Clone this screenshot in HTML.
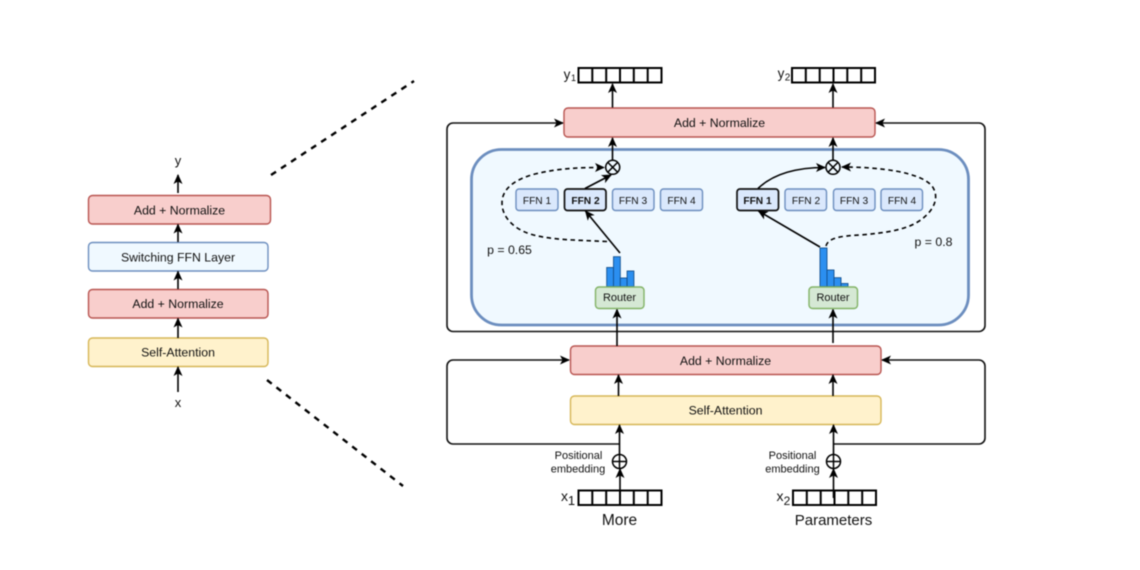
<!DOCTYPE html>
<html><head><meta charset="utf-8"><style>
html,body{margin:0;padding:0;background:#fff;width:1140px;height:570px;overflow:hidden}
svg{display:block;filter:blur(.4px)}
text{font-family:"Liberation Sans",sans-serif;fill:#111;text-anchor:middle}
.l{stroke:#000;stroke-width:1.6;fill:none}
.c{stroke:#111;stroke-width:1.6;fill:none;stroke-linejoin:round}
.d{stroke:#000;stroke-width:1.6;fill:none;stroke-dasharray:4.5 3.5}
.dd{stroke:#000;stroke-width:2.4;fill:none;stroke-dasharray:6 6}
.r{fill:#f8cecc;stroke:#b85450;stroke-width:1.4}
.y{fill:#fff2cc;stroke:#d6b656;stroke-width:1.4}
.b{fill:#f0f9ff;stroke:#6c8ebf;stroke-width:1.4}
.f{fill:#dae8fc;stroke:#6c8ebf;stroke-width:1.4}
.s{fill:#dae8fc;stroke:#111;stroke-width:1.7}
.g{fill:#d5e8d4;stroke:#82b366;stroke-width:1.4}
.bar{fill:#2b8ff0;stroke:#12508f;stroke-width:.9}
.cell{fill:#fff;stroke:#000;stroke-width:2}
.t12{font-size:12.3px}
.t10{font-size:10.2px}
.t11{font-size:11px}
</style></head><body>
<svg width="1140" height="570" viewBox="0 0 1140 570" xmlns="http://www.w3.org/2000/svg">
<defs>
<marker id="a" markerUnits="userSpaceOnUse" markerWidth="12" markerHeight="12" refX="9" refY="5" orient="auto"><path d="M0 0.5L10 5L0 9.5L2.5 5Z" fill="#000"/></marker>
</defs>

<!-- Left stack -->
<line class="dd" x1="271" y1="175" x2="414" y2="81"/>
<line class="dd" x1="267" y1="380" x2="403" y2="486"/>
<rect class="r" x="88.5" y="195.5" width="182" height="28.5" rx="4"/>
<rect class="b" x="88.5" y="242.5" width="179.5" height="28.5" rx="4"/>
<rect class="r" x="88.5" y="289.5" width="179.5" height="28.5" rx="4"/>
<rect class="y" x="88.5" y="338" width="179.5" height="28.5" rx="4"/>
<text class="t12" x="179.5" y="214.5">Add + Normalize</text>
<text class="t12" x="178" y="261.5">Switching FFN Layer</text>
<text class="t12" x="178" y="308">Add + Normalize</text>
<text class="t12" x="178" y="356.5">Self-Attention</text>
<text x="178" y="165" style="font-size:13px">y</text>
<text x="178" y="407" style="font-size:13px">x</text>
<g class="l">
<line x1="178" y1="193" x2="178" y2="175" marker-end="url(#a)"/>
<line x1="178" y1="242" x2="178" y2="224.5" marker-end="url(#a)"/>
<line x1="178" y1="289" x2="178" y2="271.5" marker-end="url(#a)"/>
<line x1="178" y1="338" x2="178" y2="318.5" marker-end="url(#a)"/>
<line x1="178" y1="392" x2="178" y2="367" marker-end="url(#a)"/>
</g>

<!-- Outer loops -->
<path class="c" d="M453 331.5H979a6 6 0 0 0 6-6V129a6 6 0 0 0-6-6H876" marker-end="url(#a)"/>
<path class="c" d="M453 331.5a6 6 0 0 1-6-6V129a6 6 0 0 1 6-6H563" marker-end="url(#a)"/>
<path class="c" d="M619 444H453a6 6 0 0 1-6-6V366a6 6 0 0 1 6-6H569" marker-end="url(#a)"/>
<path class="c" d="M833 444H979a6 6 0 0 0 6-6V366a6 6 0 0 0-6-6H882" marker-end="url(#a)"/>

<!-- Container -->
<rect x="471.5" y="149.5" width="497" height="175.5" rx="30" fill="#f0f9ff" stroke="#6c8ebf" stroke-width="2.8"/>

<!-- Main boxes -->
<rect class="r" x="564" y="108" width="311" height="29" rx="4"/>
<rect class="r" x="570.5" y="346" width="310.5" height="28.5" rx="4"/>
<rect class="y" x="570.5" y="396" width="310.5" height="28.5" rx="4"/>
<text class="t12" x="719.5" y="127">Add + Normalize</text>
<text class="t12" x="725.5" y="365">Add + Normalize</text>
<text class="t12" x="725.5" y="414.5">Self-Attention</text>

<!-- Grids -->
<g class="cell">
<rect x="578.5" y="68" width="83" height="14.5"/>
<path d="M592.3 68V82.5M606.2 68V82.5M620 68V82.5M633.8 68V82.5M647.7 68V82.5"/>
<rect x="792" y="68" width="83" height="14.5"/>
<path d="M805.8 68V82.5M819.7 68V82.5M833.5 68V82.5M847.3 68V82.5M861.2 68V82.5"/>
<rect x="578.5" y="490.5" width="83" height="14.5"/>
<path d="M592.3 490.5V505M606.2 490.5V505M620 490.5V505M633.8 490.5V505M647.7 490.5V505"/>
<rect x="793" y="490.5" width="83" height="14.5"/>
<path d="M806.8 490.5V505M820.7 490.5V505M834.5 490.5V505M848.3 490.5V505M862.2 490.5V505"/>
</g>
<text x="567" y="79" style="font-size:13.5px">y</text><text x="573.5" y="81" style="font-size:9px">1</text>
<text x="781" y="78" style="font-size:13.5px">y</text><text x="787.5" y="80.5" style="font-size:10px">2</text>
<text x="564.5" y="501" style="font-size:14px">x</text><text x="571.5" y="505" style="font-size:13px">1</text>
<text x="780" y="501" style="font-size:14px">x</text><text x="787" y="505" style="font-size:12px">2</text>
<text x="619.5" y="525" style="font-size:15.5px">More</text>
<text x="833.5" y="525" style="font-size:15px">Parameters</text>
<text class="t11" x="578.5" y="459">Positional</text>
<text class="t11" x="578" y="472.5">embedding</text>
<text class="t11" x="792.5" y="459">Positional</text>
<text class="t11" x="792.5" y="472.5">embedding</text>

<!-- Vertical arrows -->
<g class="l">
<line x1="612.5" y1="107.5" x2="612.5" y2="84" marker-end="url(#a)"/>
<line x1="833" y1="107.5" x2="833" y2="84" marker-end="url(#a)"/>
<line x1="612.5" y1="160" x2="612.5" y2="138" marker-end="url(#a)"/>
<line x1="833" y1="160" x2="833" y2="138" marker-end="url(#a)"/>
<line x1="617" y1="346" x2="617" y2="309.5" marker-end="url(#a)"/>
<line x1="833" y1="343" x2="833" y2="309.5" marker-end="url(#a)"/>
<line x1="618.5" y1="396" x2="618.5" y2="375" marker-end="url(#a)"/>
<line x1="833" y1="396" x2="833" y2="375" marker-end="url(#a)"/>
<line x1="619.5" y1="454" x2="619.5" y2="425" marker-end="url(#a)"/>
<line x1="833.5" y1="454" x2="833.5" y2="425" marker-end="url(#a)"/>
<line x1="620" y1="498" x2="620" y2="469" marker-end="url(#a)"/>
<line x1="833.5" y1="498" x2="833.5" y2="469" marker-end="url(#a)"/>
</g>

<!-- FFNs left -->
<rect class="f" x="516" y="189" width="42" height="21.5" rx="3"/>
<rect class="s" x="564.5" y="189" width="41.5" height="21.5" rx="3"/>
<rect class="f" x="612.5" y="189" width="41.5" height="21.5" rx="3"/>
<rect class="f" x="660.5" y="189" width="42" height="21.5" rx="3"/>
<text class="t10" x="537" y="204">FFN 1</text>
<text class="t10" x="585.5" y="204" font-weight="bold">FFN 2</text>
<text class="t10" x="633" y="204">FFN 3</text>
<text class="t10" x="681.5" y="204">FFN 4</text>

<!-- FFNs right -->
<rect class="s" x="737" y="189" width="41.5" height="21.5" rx="3"/>
<rect class="f" x="785" y="189" width="41.5" height="21.5" rx="3"/>
<rect class="f" x="833.5" y="189" width="41.5" height="21.5" rx="3"/>
<rect class="f" x="881" y="189" width="41.5" height="21.5" rx="3"/>
<text class="t10" x="757.5" y="204" font-weight="bold">FFN 1</text>
<text class="t10" x="806" y="204">FFN 2</text>
<text class="t10" x="854" y="204">FFN 3</text>
<text class="t10" x="902" y="204">FFN 4</text>

<!-- Bars -->
<rect class="bar" x="606.7" y="267.5" width="6.8" height="19"/>
<rect class="bar" x="613.5" y="256.7" width="6.8" height="29.8"/>
<rect class="bar" x="620.3" y="278" width="6.8" height="8.5"/>
<rect class="bar" x="627.1" y="271" width="6.8" height="15.5"/>
<rect class="bar" x="820" y="248" width="7" height="38.5"/>
<rect class="bar" x="827" y="270" width="7" height="16.5"/>
<rect class="bar" x="834" y="277.7" width="7" height="8.8"/>
<rect class="bar" x="841" y="283.5" width="7" height="3"/>

<!-- Routers -->
<rect class="g" x="595.5" y="287" width="48.5" height="21.5" rx="3.5"/>
<rect class="g" x="809" y="287" width="48.5" height="21.5" rx="3.5"/>
<text class="t11" x="619.5" y="301">Router</text>
<text class="t11" x="833" y="301">Router</text>

<!-- Solid routing arrows -->
<g class="l">
<line x1="620" y1="253" x2="585.5" y2="211" marker-end="url(#a)"/>
<line x1="585" y1="188.5" x2="611" y2="175" marker-end="url(#a)"/>
<line x1="820" y1="247" x2="758.5" y2="211" marker-end="url(#a)"/>
<path d="M758 188.5C775 172 800 167.5 825 167.5" marker-end="url(#a)"/>
</g>

<!-- Dashed routing -->
<path class="d" d="M607 241.5C575 240 550 240 530 234C512 228 502 216 502 203C502 188 516 179 535 174C560 168 580 167.5 604 167.5" marker-end="url(#a)"/>
<path class="d" d="M826 246C828 238 840 236 860 235C885 233 908 230 922 219C934 210 940 197 932 186C920 172 880 167 842 167" marker-end="url(#a)"/>

<!-- Circles -->
<g fill="#f0f9ff" stroke="#000" stroke-width="1.5">
<circle cx="612.7" cy="167.3" r="7"/>
<path d="M607.8 162.4L617.6 172.2M617.6 162.4L607.8 172.2"/>
<circle cx="833" cy="167.3" r="7"/>
<path d="M828.1 162.4L837.9 172.2M837.9 162.4L828.1 172.2"/>
<circle cx="619.5" cy="461.5" r="7" fill="#fff"/>
<path d="M612.5 461.5H626.5M619.5 454.5V468.5"/>
<circle cx="833.5" cy="461.5" r="7" fill="#fff"/>
<path d="M826.5 461.5H840.5M833.5 454.5V468.5"/>
</g>

<text class="t12" x="509.5" y="254">p = 0.65</text>
<text class="t12" x="933.5" y="246">p = 0.8</text>
</svg>
</body></html>
